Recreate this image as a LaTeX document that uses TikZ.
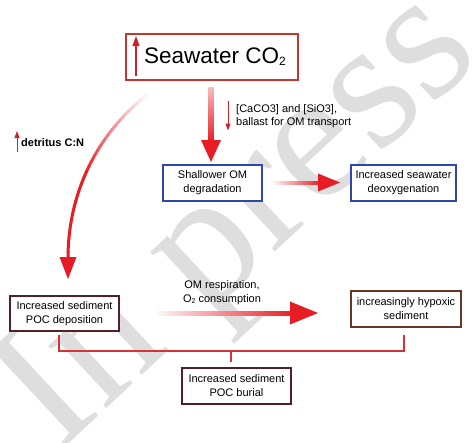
\documentclass[tikz,border=0pt]{standalone}
\usepackage{fontspec}
\setmainfont{Liberation Sans}
\newfontfamily\wmfont{Liberation Serif}
\usetikzlibrary{calc,arrows.meta}
\definecolor{arrred}{RGB}{232,28,36}
\definecolor{thinred}{RGB}{205,35,45}
\definecolor{co2red}{RGB}{192,56,48}
\definecolor{boxblue}{RGB}{44,72,168}
\definecolor{boxdark}{RGB}{84,32,38}
\definecolor{boxbrown}{RGB}{104,56,36}
\definecolor{brred}{RGB}{214,50,58}
\definecolor{wmgray}{RGB}{222,222,222}
\begin{document}
\begin{tikzpicture}[x=1pt,y=-1pt,
  box/.style={draw, line width=2pt, fill=white, align=center, inner sep=0pt,
    font=\fontsize{11}{14}\selectfont},
  lbl/.style={inner sep=0pt, font=\fontsize{11}{13}\selectfont},
  thinarrow/.style={draw=thinred, line width=1.2pt, -{Triangle[length=7pt,width=5pt]}},
  bracket/.style={draw=brred, line width=1.3pt},
  headfill/.style={fill=arrred, draw=none}
]
\useasboundingbox (0,0) rectangle (474,442);
\fill[white] (0,0) rectangle (474,442);
% watermark
\node[wmgray, font=\wmfont\fontsize{185}{185}\selectfont, rotate=43, inner sep=0pt] (wm) at (243,226) {In press};

% boxes
\node[box, draw=co2red, minimum width=172pt, minimum height=46pt, font=\fontsize{22.5}{24}\selectfont] (co2) at (212,57) {\hspace{6pt}Seawater CO{\fontsize{12}{12}\selectfont\raisebox{-2pt}{2}}};
\node[box, draw=boxblue, minimum width=99pt, minimum height=36pt] (shallow) at (212.5,183) {Shallower OM\\degradation};
\node[box, draw=boxblue, minimum width=105pt, minimum height=36pt] (deox) at (403.5,183) {Increased seawater\\deoxygenation};
\node[box, draw=boxdark, minimum width=109pt, minimum height=35pt] (dep) at (64.5,313.5) {Increased sediment\\POC deposition};
\node[box, draw=boxbrown, minimum width=110pt, minimum height=36pt] (hyp) at (406,309) {increasingly hypoxic\\sediment};
\node[box, draw=boxdark, minimum width=109pt, minimum height=36pt] (burial) at (236.5,386) {Increased sediment\\POC burial};

% labels
\node[lbl, anchor=west, align=left] (ballast) at (236,116.5) {[CaCO3] and [SiO3],\\ballast for OM transport};
\node[lbl, anchor=west, font=\bfseries\fontsize{11}{13}\selectfont] (detr) at (21,143) {detritus C:N};
\node[lbl, align=center, font=\fontsize{11}{14}\selectfont] (omlab) at (222,293) {OM respiration,\\O{\fontsize{7}{7}\selectfont\raisebox{-1pt}{2}} consumption};

% small arrows
\draw[thinarrow, -{Triangle[length=10pt,width=7pt]}] ($(co2.west)+(11,19)$) -- ($(co2.west)+(11,-21)$);
\draw[thinarrow, line width=1pt] ($(ballast.west)+(-8,-16)$) -- ($(ballast.west)+(-8,14)$);
\draw[thinarrow, line width=1pt] ($(detr.west)+(-4,9)$) -- ($(detr.west)+(-4,-12)$);

% vertical arrow co2 -> shallow
\shade[top color=arrred!30!white, bottom color=arrred] ($(co2.south)+(-3.5,6)$) rectangle ($(shallow.north)+(1,-22)$);
\path[headfill] ($(shallow.north)+(-11.5,-24)$) -- ($(shallow.north)+(8.5,-24)$) -- ($(shallow.north)+(-1.5,-2)$) -- cycle;

% shallow -> deox
\shade[left color=arrred!4!white, right color=arrred] ($(shallow.east)+(10,-2)$) rectangle ($(deox.west)+(-30,1)$);
\path[headfill] ($(deox.west)+(-32,-9.5)$) -- ($(deox.west)+(-32,8.5)$) -- ($(deox.west)+(-10,-0.5)$) -- cycle;

% dep -> hyp
\coordinate (hx) at (dep.east -| hyp.west);
\shade[left color=arrred!4!white, right color=arrred] ($(dep.east)+(37,-2.5)$) rectangle ($(hx)+(-56,1.5)$);
\path[headfill] ($(hx)+(-60,-12)$) -- ($(hx)+(-60,11)$) -- ($(hx)+(-32,-0.5)$) -- cycle;

% curved arrow co2 -> dep
\coordinate (cs) at ($(co2.south west)+(22,14)$);
\coordinate (ce) at ($(dep.north)+(3.5,-37)$);
\path (cs) .. controls (98,133) and (68,192) .. (ce)
  \foreach \i [evaluate=\i as \t using \i/30] in {0,...,30} { coordinate[pos=\t] (q\i) };
\foreach \i [count=\j from 1, evaluate=\i as \p using {int(min(100,6+\i*94/16))}] in {0,...,29}
  \draw[line width=3pt, arrred!\p!white, line cap=round] (q\i) -- (q\j);
\path[headfill] ($(ce)+(-8.5,-1)$) -- ($(ce)+(8.5,-1)$) -- ($(ce)+(0,21)$) -- cycle;

% bracket
\coordinate (bl) at ($(dep.south)+(-5.5,3)$);
\coordinate (br) at ($(hyp.south)+(-2,7)$);
\coordinate (bm) at ($(burial.north)+(-5.5,-5)$);
\coordinate (bj) at ($(bm)+(0,-11)$);
\draw[bracket] (bl) |- (bj) -| (br);
\draw[bracket] (bj) -- (bm);
\end{tikzpicture}
\end{document}
